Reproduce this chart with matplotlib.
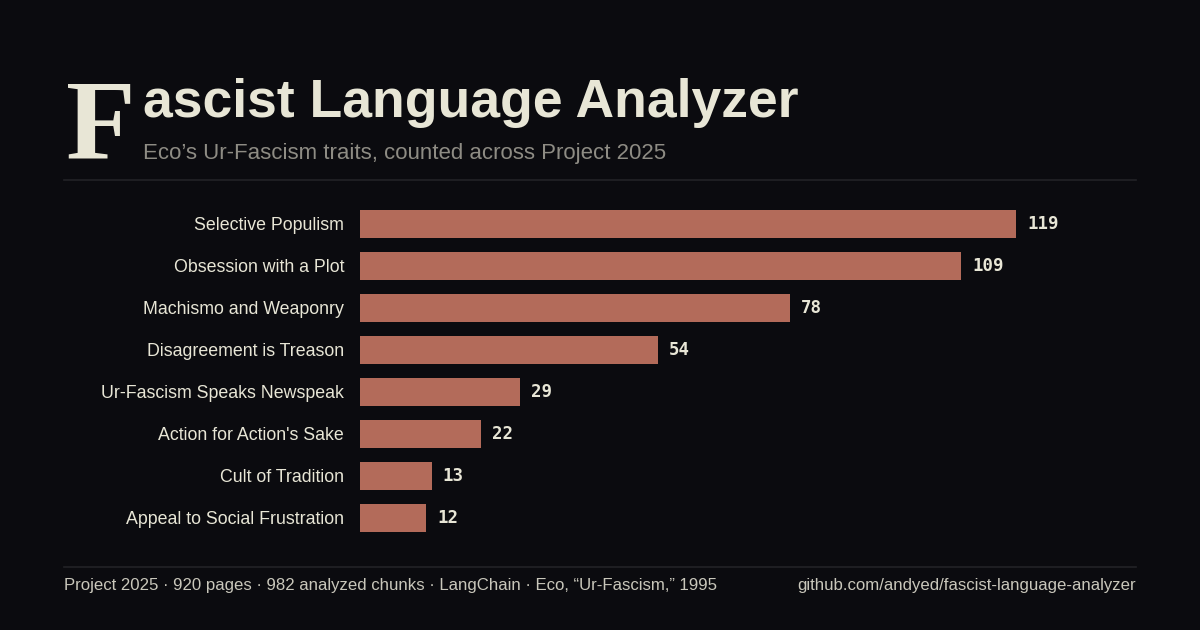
import matplotlib
matplotlib.use("Agg")
import matplotlib.pyplot as plt

# data
traits = [
    "Selective Populism",
    "Obsession with a Plot",
    "Machismo and Weaponry",
    "Disagreement is Treason",
    "Ur-Fascism Speaks Newspeak",
    "Action for Action's Sake",
    "Cult of Tradition",
    "Appeal to Social Frustration",
]
counts = [119, 109, 78, 54, 29, 22, 13, 12]

BG = "#0b0b0f"
BAR = "#b36b5a"
CREAM = "#e8e6d6"
GREY = "#8e8c84"
FOOT = "#c9c7bb"
RULE = "#222227"

W, H = 1200, 630
fig = plt.figure(figsize=(12, 6.3), dpi=100, facecolor=BG)

# px -> figure fraction helpers
fx = lambda px: px / W
fy = lambda py: 1 - py / H

# bar area
xmax = 130
px_per_unit = (1016 - 360) / 119
ax = fig.add_axes([fx(360), fy(539), px_per_unit * xmax / W, (539 - 203) / H])
ax.set_facecolor(BG)

y = list(range(len(traits)))
ax.barh(y, counts, height=0.667, color=BAR, edgecolor="none")
ax.set_xlim(0, xmax)
ax.set_ylim(len(traits) - 0.5, -0.5)
ax.set_xticks([])
ax.set_yticks(y)
ax.set_yticklabels(traits, fontsize=12.8, color=CREAM, family="Liberation Sans")
ax.tick_params(axis="y", length=0, pad=11.5)
for s in ax.spines.values():
    s.set_visible(False)

for yi, c in zip(y, counts):
    ax.annotate(str(c), (c, yi), xytext=(8, 0), textcoords="offset points",
                va="center", ha="left", fontsize=12.5, fontweight="bold",
                family="DejaVu Sans Mono", color=CREAM)

# header
fig.text(fx(66), fy(158), "F", fontsize=82, fontweight="bold",
         family="Liberation Serif", color=CREAM, va="baseline", ha="left")
fig.text(fx(143), fy(117), "ascist Language Analyzer", fontsize=38.5,
         fontweight="bold", family="Liberation Sans", color=CREAM, va="baseline")
fig.text(fx(143), fy(159), "Eco\u2019s Ur-Fascism traits, counted across Project 2025",
         fontsize=16, family="Liberation Sans", color=GREY, va="baseline")

# rules
fig.add_artist(plt.Line2D([fx(64), fx(1136)], [fy(180), fy(180)], color=RULE, lw=1.2))
fig.add_artist(plt.Line2D([fx(64), fx(1136)], [fy(567), fy(567)], color=RULE, lw=1.2))

# footer
fig.text(fx(64), fy(590),
         "Project 2025 \u00b7 920 pages \u00b7 982 analyzed chunks \u00b7 LangChain \u00b7 Eco, \u201cUr-Fascism,\u201d 1995",
         fontsize=12.1, family="Liberation Sans", color=FOOT, va="baseline")
fig.text(fx(1136), fy(590), "github.com/andyed/fascist-language-analyzer",
         fontsize=12.1, family="Liberation Sans", color=FOOT, va="baseline", ha="right")

fig.savefig("out.png", dpi=100, facecolor=BG)
